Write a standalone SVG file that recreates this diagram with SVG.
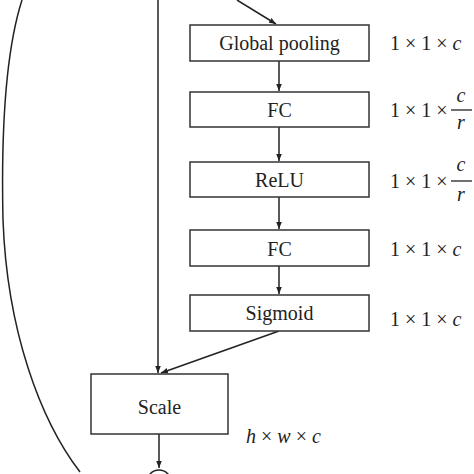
<svg xmlns="http://www.w3.org/2000/svg" width="474" height="474" viewBox="0 0 474 474">
<style>
.box{fill:#fff;stroke:#333;stroke-width:1.5}
.lbl{font-family:"Liberation Serif",serif;font-size:20px;fill:#222;text-anchor:middle}
.dim{font-family:"Liberation Serif",serif;font-size:20px;fill:#222}
.it{font-style:italic}
.ln{fill:none;stroke:#222;stroke-width:1.5}
</style>
<defs>
<marker id="ah" viewBox="0 0 10 10" refX="10" refY="5" markerWidth="7" markerHeight="7" orient="auto" markerUnits="userSpaceOnUse">
<path d="M0,1 L10,5 L0,9 z" fill="#222"/>
</marker>
</defs>
<rect width="474" height="474" fill="#fff"/>
<g id="connectors">
<path class="ln" d="M22,0 C6,50 1,130 3,220 C7,330 40,420 80,472"/>
<line class="ln" x1="158" y1="0" x2="158" y2="373" marker-end="url(#ah)"/>
<line class="ln" x1="237" y1="0" x2="276" y2="24" marker-end="url(#ah)"/>
<line class="ln" x1="279" y1="61" x2="279" y2="91" marker-end="url(#ah)"/>
<line class="ln" x1="279" y1="127" x2="279" y2="161" marker-end="url(#ah)"/>
<line class="ln" x1="279" y1="197" x2="279" y2="229" marker-end="url(#ah)"/>
<line class="ln" x1="279" y1="266" x2="279" y2="294" marker-end="url(#ah)"/>
<line class="ln" x1="279" y1="331" x2="161" y2="373" marker-end="url(#ah)"/>
<line class="ln" x1="159" y1="434" x2="159" y2="468" marker-end="url(#ah)"/>
</g>
<g id="global-pooling">
<rect class="box" x="190" y="25" width="179" height="36"/>
<text class="lbl" x="279.5" y="50">Global pooling</text>
<text class="dim" x="390" y="50">1 × 1 × <tspan class="it">c</tspan></text>
</g>
<g id="fc1">
<rect class="box" x="190" y="92" width="179" height="35"/>
<text class="lbl" x="279.5" y="117">FC</text>
<text class="dim" x="390" y="117">1 × 1 ×</text>
<text class="dim it" x="461" y="102" text-anchor="middle">c</text>
<line x1="451" y1="110" x2="472" y2="110" stroke="#222" stroke-width="1.3"/>
<text class="dim it" x="461" y="129" text-anchor="middle">r</text>
</g>
<g id="relu">
<rect class="box" x="190" y="162" width="179" height="35"/>
<text class="lbl" x="279.5" y="187">ReLU</text>
<text class="dim" x="390" y="188">1 × 1 ×</text>
<text class="dim it" x="461" y="171" text-anchor="middle">c</text>
<line x1="451" y1="181" x2="472" y2="181" stroke="#222" stroke-width="1.3"/>
<text class="dim it" x="461" y="201" text-anchor="middle">r</text>
</g>
<g id="fc2">
<rect class="box" x="190" y="230" width="179" height="36"/>
<text class="lbl" x="279.5" y="256">FC</text>
<text class="dim" x="390" y="256">1 × 1 × <tspan class="it">c</tspan></text>
</g>
<g id="sigmoid">
<rect class="box" x="190" y="295" width="179" height="36"/>
<text class="lbl" x="279.5" y="320">Sigmoid</text>
<text class="dim" x="390" y="326">1 × 1 × <tspan class="it">c</tspan></text>
</g>
<g id="scale">
<rect class="box" x="91" y="374" width="137" height="60"/>
<text class="lbl" x="159.5" y="414">Scale</text>
<text class="dim it" x="246" y="443">h <tspan font-style="normal">×</tspan> w <tspan font-style="normal">×</tspan> c</text>
</g>
<g id="sum">
<circle cx="159" cy="482" r="12" fill="#fff" stroke="#222" stroke-width="1.5"/>
</g>
</svg>
